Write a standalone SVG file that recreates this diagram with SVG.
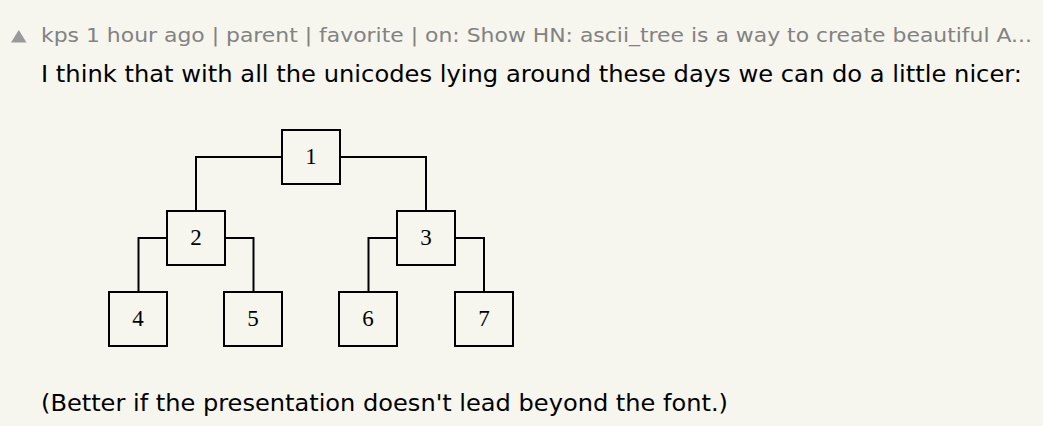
<svg xmlns="http://www.w3.org/2000/svg" width="1043" height="426" viewBox="0 0 1043 426">
<style>
.bg{fill:#f6f6ef}
.hdr{font-family:"DejaVu Sans","Verdana",sans-serif;font-size:20px;fill:#828282}
.body{font-family:"DejaVu Sans","Verdana",sans-serif;font-size:23px;fill:#000}
.foot{font-family:"DejaVu Sans Condensed","DejaVu Sans",sans-serif;font-size:23.5px;fill:#000}
.box{fill:none;stroke:#000;stroke-width:2}
.lbl{font-family:"Liberation Serif","Times New Roman",serif;font-size:23px;fill:#000;text-anchor:middle}
.conn{fill:none;stroke:#000;stroke-width:2}
</style>
<rect class="bg" x="0" y="0" width="1043" height="426"/>
<polygon points="11,42.5 26.5,42.5 18.75,30" fill="#9a9a9a"/>
<text class="hdr" x="41" y="42" textLength="991" lengthAdjust="spacingAndGlyphs">kps 1 hour ago | parent | favorite | on: Show HN: ascii_tree is a way to create beautiful A...</text>
<text class="body" x="41" y="82" textLength="981" lengthAdjust="spacingAndGlyphs">I think that with all the unicodes lying around these days we can do a little nicer:</text>
<g id="connectors">
<polyline class="conn" points="282,157 196,157 196,211"/>
<polyline class="conn" points="340,157 426,157 426,211"/>
<polyline class="conn" points="168,238 138.5,238 138.5,292"/>
<polyline class="conn" points="225,238 253.5,238 253.5,292"/>
<polyline class="conn" points="398,238 368.5,238 368.5,292"/>
<polyline class="conn" points="455,238 484,238 484,292"/>
</g>
<g id="node1"><rect class="box" x="282" y="130" width="58" height="54"/><text class="lbl" x="311" y="163.5">1</text></g>
<g id="node2"><rect class="box" x="167" y="211" width="58" height="54"/><text class="lbl" x="196" y="244.5">2</text></g>
<g id="node3"><rect class="box" x="397" y="211" width="58" height="54"/><text class="lbl" x="426" y="244.5">3</text></g>
<g id="node4"><rect class="box" x="109" y="292" width="58" height="54"/><text class="lbl" x="138" y="325.5">4</text></g>
<g id="node5"><rect class="box" x="224" y="292" width="58" height="54"/><text class="lbl" x="253" y="325.5">5</text></g>
<g id="node6"><rect class="box" x="339" y="292" width="58" height="54"/><text class="lbl" x="368" y="325.5">6</text></g>
<g id="node7"><rect class="box" x="455" y="292" width="58" height="54"/><text class="lbl" x="484" y="325.5">7</text></g>
<text class="foot" x="41" y="411" textLength="687" lengthAdjust="spacingAndGlyphs">(Better if the presentation doesn't lead beyond the font.)</text>
</svg>
